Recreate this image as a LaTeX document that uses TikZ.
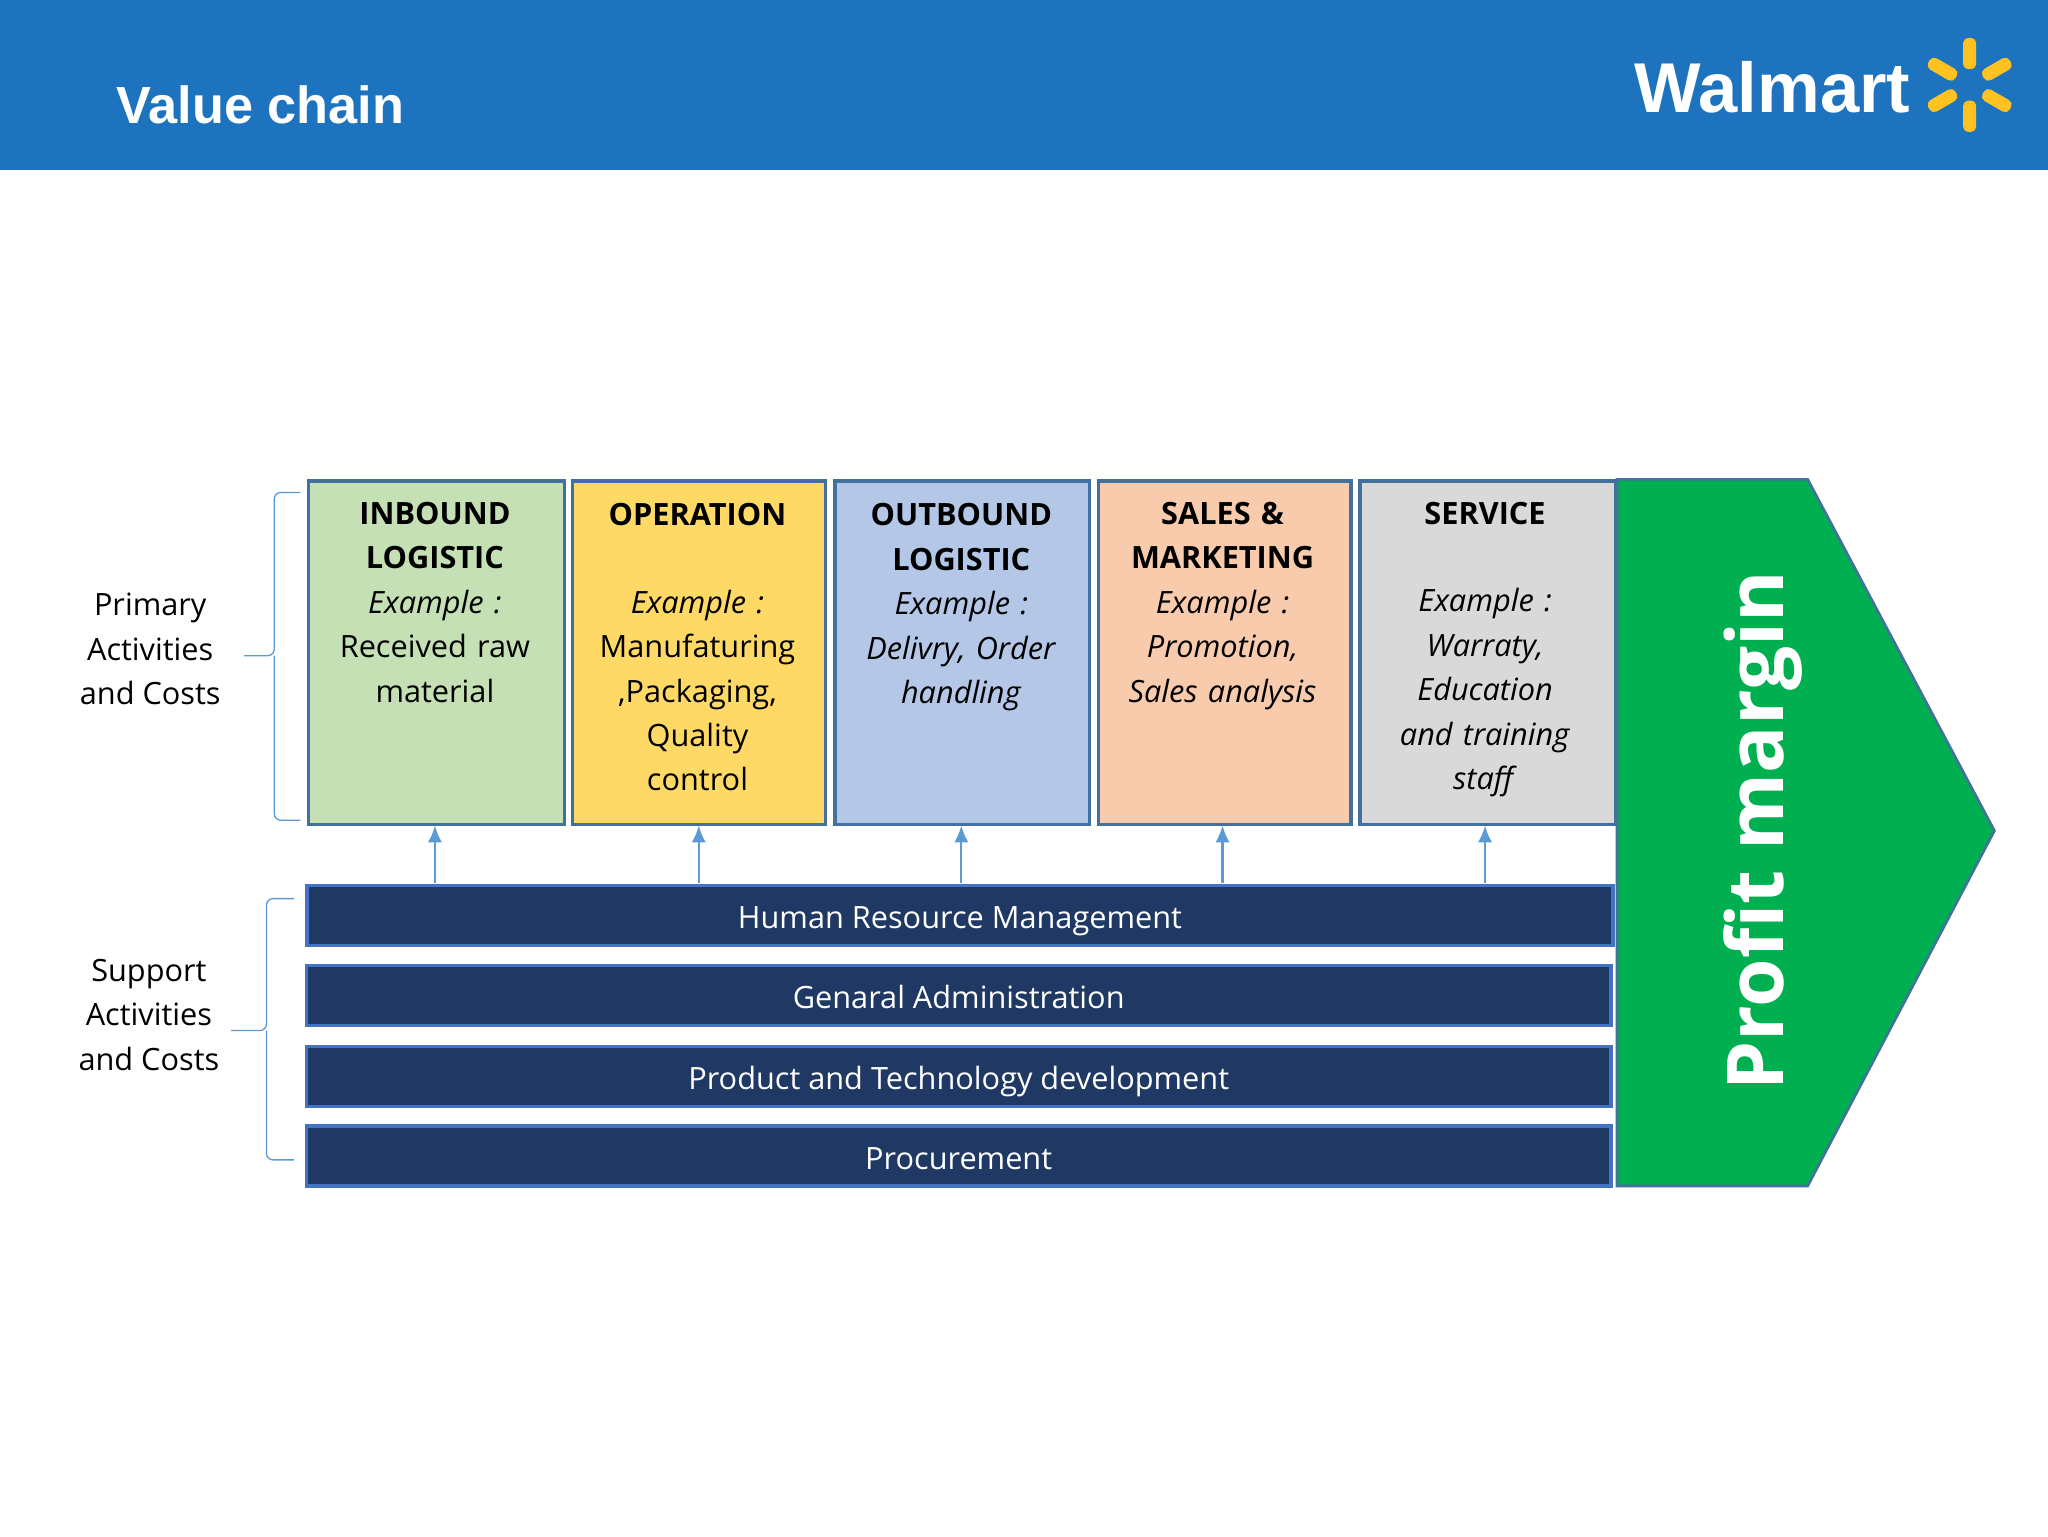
\documentclass[tikz,border=0pt]{standalone}
\usepackage{fontspec}
\setmainfont{Open Sans}
\newfontfamily\arialf{Liberation Sans}
\usetikzlibrary{arrows.meta}
\begin{document}
\begin{tikzpicture}[x=1pt,y=-1pt,
  prim/.style={draw=bdr,line width=2.5pt,minimum width=#1,minimum height=263pt,anchor=north west},
  txt/.style={text width=196pt,align=center,anchor=north,font=\fontsize{23.5}{34}\selectfont},
  bar/.style={fill=navy,draw=bar,line width=2.5pt,minimum height=46pt,text height=22pt,text depth=2pt,text=white,font=\fontsize{23.5}{28}\selectfont},
  up/.style={-{Latex[length=13pt,width=11pt]},draw=arr,line width=1.8pt},
  brace/.style={draw=arr,line width=1pt,rounded corners=5pt},
  lab/.style={align=center,font=\fontsize{23.5}{34}\selectfont}]
\definecolor{hdr}{RGB}{30,115,190}
\definecolor{bdr}{RGB}{65,113,156}
\definecolor{arr}{RGB}{91,155,213}
\definecolor{navy}{RGB}{32,56,100}
\definecolor{bar}{RGB}{68,114,196}
\definecolor{gr}{RGB}{197,224,180}
\definecolor{ye}{RGB}{255,217,102}
\definecolor{bl}{RGB}{180,199,231}
\definecolor{or}{RGB}{248,203,173}
\definecolor{gy}{RGB}{217,217,217}
\definecolor{pm}{RGB}{0,176,80}
\definecolor{spark}{RGB}{255,194,32}
\useasboundingbox (0,0) rectangle (1568,1176);
\fill[white] (0,0) rectangle (1568,1176);
\fill[hdr] (0,0) rectangle (1568,130);
\node[anchor=west,text=white,font=\arialf\bfseries\fontsize{40}{42}\selectfont] (title) at (86,80) {Value chain};
\node[anchor=east,text=white,font=\arialf\bfseries\fontsize{54}{56}\selectfont] (logo) at (1466,67) {Walmart};
\foreach \a in {90,150,210,270,330,30}{
  \begin{scope}[shift={(1508,65)},rotate=\a]
  \fill[spark,rounded corners=4pt] (12,-5) rectangle (36,5);
  \end{scope}
}
% primary boxes
\node[prim=196pt,fill=gr] (b1) at (235,367) {};
\node[prim=194pt,fill=ye] (b2) at (437,367) {};
\node[prim=195pt,fill=bl] (b3) at (638,367) {};
\node[prim=193pt,fill=or] (b4) at (840,367) {};
\node[prim=196pt,fill=gy] (b5) at (1040,367) {};
\node[txt] (t1) at (333,381) {\textbf{INBOUND\\LOGISTIC}\\\textit{Example :}\\Received raw\\material};
\node[txt] (t2) at (534,382) {\textbf{OPERATION}\\[33pt]\textit{Example :}\\Manufaturing\\,Packaging,\\Quality\\control};
\node[txt] (t3) at (736,382) {\textbf{OUTBOUND\\LOGISTIC}\\\textit{Example :}\\\textit{Delivry, Order}\\\textit{handling}};
\node[txt] (t4) at (936,381) {\textbf{SALES \&\\MARKETING}\\\textit{Example :}\\\textit{Promotion,}\\\textit{Sales analysis}};
\node[txt] (t5) at (1137,381) {\textbf{SERVICE}\\[33pt]\textit{Example :}\\\textit{Warraty,}\\\textit{Education}\\\textit{and training}\\\textit{staff}};
% bars
\node[bar,minimum width=1000pt] (h1) at (735,701) {Human Resource Management};
\node[bar,minimum width=999pt] (h2) at (734,762) {Genaral Administration};
\node[bar,minimum width=999pt] (h3) at (734,824) {Product and Technology development};
\node[bar,minimum width=999pt] (h4) at (734,885) {Procurement};
\foreach \x in {333,535,736,936,1137}
  \draw[up] (\x,676) -- (\x,632);
% profit margin
\draw[fill=pm,draw=bdr,line width=2pt] (1238,367) -- (1384,367) -- (1527,636) -- (1384,908) -- (1238,908) -- cycle;
\node[rotate=90,text=white,font=\bfseries\fontsize{60}{62}\selectfont] (pmt) at (1350,636) {Profit margin};
% braces
\draw[brace] (230,377) -- (210,377) -- (210,502) -- (187,502);
\draw[brace] (230,628) -- (210,628) -- (210,502);
\draw[brace] (225,688) -- (204,688) -- (204,789) -- (177,789);
\draw[brace] (225,888) -- (204,888) -- (204,789);
\node[lab] (pa) at (115,497) {Primary\\Activities\\and Costs};
\node[lab] (sa) at (114,777) {Support\\Activities\\and Costs};
\end{tikzpicture}
\end{document}
